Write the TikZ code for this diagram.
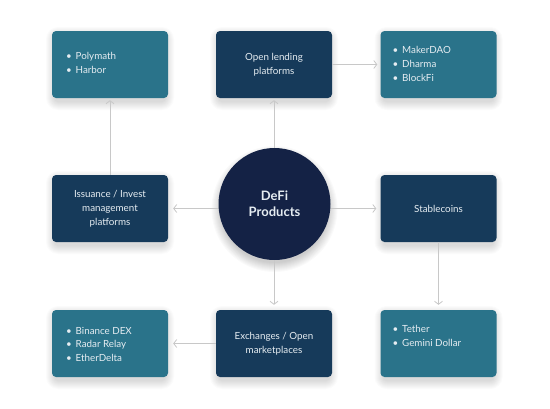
\documentclass[tikz,border=0pt]{standalone}
\usepackage{fontspec}
\setmainfont{Lato}
\usetikzlibrary{arrows.meta}
\definecolor{tealc}{HTML}{2A738A}
\definecolor{darkc}{HTML}{163A5A}
\definecolor{circc}{HTML}{142245}
\definecolor{txtc}{HTML}{E6EDF2}
\definecolor{linec}{HTML}{C8C8C8}
\tikzset{
  boxbase/.style={rounded corners=4pt, minimum width=116pt, minimum height=67pt, inner sep=0pt,
    text=txtc, font=\fontsize{9.8}{14}\selectfont, align=center},
  tealbox/.style={boxbase, fill=tealc},
  darkbox/.style={boxbase, fill=darkc},
  listtxt/.style={text=txtc, font=\fontsize{9.8}{13.6}\selectfont, align=left, inner sep=0pt, anchor=west},
  arr/.style={draw=linec, line width=0.8pt, -{Straight Barb[length=3pt,width=8pt]}},
  shd/.style={fill=black, fill opacity=0.016},
}
\newcommand{\bul}{\makebox[9.5pt][l]{\textbullet}}
\newcommand{\shadowat}[2]{%
  \foreach \i in {0,...,8}{%
    \fill[shd, rounded corners=4pt+\i pt]
      (#1-56-\i, #2-29.5-\i) rectangle (#1+56+\i, #2+37.5+\i);}}
\begin{document}
\begin{tikzpicture}[x=1pt,y=-1pt]
\fill[white] (0,0) rectangle (550,408);
\useasboundingbox (0,0) rectangle (550,408);
% shadows
\shadowat{110}{64.5}\shadowat{274}{64.5}\shadowat{438.5}{64.5}
\shadowat{110}{208.5}\shadowat{438.5}{208.5}
\shadowat{110}{343.5}\shadowat{274}{343.5}\shadowat{438.5}{343.5}
\foreach \i in {0,...,9}{\fill[shd, fill opacity=0.02] (274.5,209) circle[radius=54pt+\i pt];}
% boxes
\node[tealbox] (poly) at (110,64.5) {};
\node[darkbox] (open) at (274,64.5) {Open lending\\platforms};
\node[tealbox] (maker) at (438.5,64.5) {};
\node[darkbox] (iss) at (110,208.5) {Issuance / Invest\\management\\platforms};
\node[darkbox] (stab) at (438.5,208.5) {Stablecoins};
\node[tealbox] (bin) at (110,343.5) {};
\node[darkbox] (exch) at (274,343.5) {Exchanges / Open\\marketplaces};
\node[tealbox] (teth) at (438.5,343.5) {};
% circle
\node[circle, fill=circc, minimum size=112pt, inner sep=0pt, text=txtc,
  font=\bfseries\fontsize{13}{16}\selectfont, align=center]
  (c) at (274.5,204) {DeFi\\Products};
% lists
\node[listtxt] (polyl) at (66,63) {\bul Polymath\\\bul Harbor};
\node[listtxt] (makerl) at (392.5,64) {\bul MakerDAO\\\bul Dharma\\\bul BlockFi};
\node[listtxt] (binl) at (66,344.3) {\bul Binance DEX\\\bul Radar Relay\\\bul EtherDelta};
\node[listtxt, anchor=north west] (tethl) at (392.5,325.5) {\bul Tether\\\bul Gemini Dollar};
% connectors
\draw[arr, shorten >=2pt] (c.north -| open.south) -- (open.south);
\draw[arr, shorten >=2pt] (iss.north) -- (poly.south);
\draw[arr, shorten >=3pt] (open.east) -- (maker.west);
\draw[arr, shorten >=5pt] (c.west |- iss.east) -- (iss.east);
\draw[arr, shorten >=4pt] (c.east |- stab.west) -- (stab.west);
\draw[arr, shorten >=5pt] (stab.south) -- (teth.north);
\draw[arr, shorten >=5pt] (c.south -| exch.north) -- (exch.north);
\draw[arr, shorten >=5pt] (exch.west) -- (bin.east);
\end{tikzpicture}
\end{document}
